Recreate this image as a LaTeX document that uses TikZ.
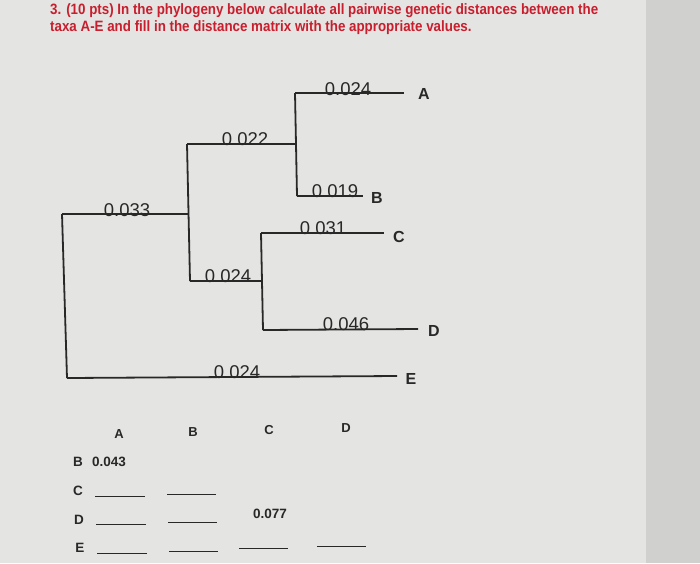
\documentclass[tikz,border=0pt]{standalone}
\usepackage{fontspec}
\usepackage{graphicx}
\setmainfont{Liberation Sans}
\definecolor{bg}{RGB}{228,228,226}
\definecolor{strip}{RGB}{208,208,207}
\definecolor{titlered}{RGB}{200,30,45}
\definecolor{ink}{RGB}{40,40,40}
\tikzset{
  branch/.style={draw=ink, line width=1.8pt},
  blen/.style={anchor=base, inner sep=0pt, font=\fontsize{18.5}{18.5}\selectfont, text=ink},
  taxon/.style={anchor=center, inner sep=0pt, font=\fontsize{16}{16}\selectfont\bfseries, text=ink},
  title/.style={anchor=base west, inner sep=0pt, text=titlered, font=\fontsize{15}{15}\selectfont\bfseries},
  colhead/.style={anchor=center, inner sep=0pt, font=\fontsize{13}{13}\selectfont\bfseries, text=ink},
  rowhead/.style={anchor=center, inner sep=0pt, font=\fontsize{13.5}{13.5}\selectfont\bfseries, text=ink},
  val/.style={anchor=center, inner sep=0pt, font=\fontsize{13.5}{13.5}\selectfont\bfseries, text=ink},
  blank/.style={draw=ink, line width=1pt}
}
\begin{document}
\begin{tikzpicture}[x=1pt,y=-1pt]
\useasboundingbox (0,0) rectangle (700,563);
\fill[bg] (0,0) rectangle (646,563);
\fill[strip] (646,0) rectangle (700,563);

% title
\node[title] (t1) at (50,14) {\scalebox{0.89}[1]{3. (10 pts) In the phylogeny below calculate all pairwise genetic distances between the}};
\node[title] (t2) at (50,31) {\scalebox{0.89}[1]{taxa A-E and fill in the distance matrix with the appropriate values.}};

% internal tree points
\coordinate (rt) at (62,214);
\coordinate (rb) at (67,378);
\coordinate (n1t) at (187,144);
\coordinate (n1b) at (190,281);
\coordinate (n2t) at (295,93);
\coordinate (n2m) at (296,144);
\coordinate (n2b) at (297,196);
\coordinate (n3t) at (261,233);
\coordinate (n3b) at (263,330);
% leaf ends
\coordinate (la) at (404,93);
\coordinate (lb) at (363,196);
\coordinate (lc) at (384,233);
\coordinate (ld) at (418,329);
\coordinate (le) at (397,376);
\coordinate (n1m) at (188,214);
\coordinate (n3m) at (262,281);

% branches
\draw[branch] (rt) -- (rb);
\draw[branch] (rt) -- (n1m);
\draw[branch] (n1t) -- (n1b);
\draw[branch] (n1t) -- (n2m);
\draw[branch] (n2t) -- (n2b);
\draw[branch] (n2t) -- (la);
\draw[branch] (n2b) -- (lb);
\draw[branch] (n1b) -- (n3m);
\draw[branch] (n3t) -- (n3b);
\draw[branch] (n3t) -- (lc);
\draw[branch] (n3b) -- (ld);
\draw[branch] (rb) -- (le);

% branch lengths
\node[blen] (bA) at (348,95) {0.024};
\node[blen] (bB) at (335,197) {0.019};
\node[blen] (bAB) at (245,145) {0.022};
\node[blen] (bR) at (127,216) {0.033};
\node[blen] (bCD) at (228,282) {0.024};
\node[blen] (bC) at (323,234) {0.031};
\node[blen] (bD) at (346,330) {0.046};
\node[blen] (bE) at (237,378) {0.024};

% taxa
\node[taxon] (A) at (424,94) {A};
\node[taxon] (B) at (377,198) {B};
\node[taxon] (C) at (399,237) {C};
\node[taxon] (D) at (434,331) {D};
\node[taxon] (E) at (411,379) {E};

% matrix
\node[colhead] (cA) at (119,434) {A};
\node[colhead] (cB) at (193,432) {B};
\node[colhead] (cC) at (269,430) {C};
\node[colhead] (cD) at (346,428) {D};
\node[rowhead] (rB) at (78,462) {B};
\node[rowhead] (rC) at (78,491) {C};
\node[rowhead] (rD) at (79,520) {D};
\node[rowhead] (rE) at (80,548) {E};
\node[val] (vBA) at (109,462) {0.043};
\node[val] (vDC) at (270,514) {0.077};

\coordinate (c1a) at (95,496); \coordinate (c1b) at (145,496);
\coordinate (c2a) at (167,494); \coordinate (c2b) at (216,494);
\coordinate (d1a) at (96,524); \coordinate (d1b) at (146,524);
\coordinate (d2a) at (168,522); \coordinate (d2b) at (217,522);
\coordinate (e1a) at (97,553); \coordinate (e1b) at (147,553);
\coordinate (e2a) at (169,551); \coordinate (e2b) at (218,551);
\coordinate (e3a) at (239,548); \coordinate (e3b) at (288,548);
\coordinate (e4a) at (317,546); \coordinate (e4b) at (366,546);
\draw[blank] (c1a) -- (c1b);
\draw[blank] (c2a) -- (c2b);
\draw[blank] (d1a) -- (d1b);
\draw[blank] (d2a) -- (d2b);
\draw[blank] (e1a) -- (e1b);
\draw[blank] (e2a) -- (e2b);
\draw[blank] (e3a) -- (e3b);
\draw[blank] (e4a) -- (e4b);
\end{tikzpicture}
\end{document}
